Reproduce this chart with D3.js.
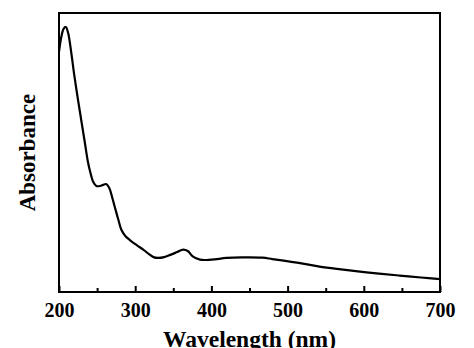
<!DOCTYPE html>
<html>
<head>
<meta charset="utf-8">
<script src="https://cdn.jsdelivr.net/npm/d3@7"></script>
<style>
  html, body { margin: 0; padding: 0; background: #fff; }
  svg { display: block; }
  text { font-family: "Liberation Serif", "Times New Roman", serif; font-weight: bold; fill: #000; }
</style>
</head>
<body>
<svg id="chart" width="474" height="348"></svg>
<script>
// UV-Vis absorption spectrum (arbitrary absorbance units)
const wavelength = [200, 203, 206, 209, 212, 216, 220, 225, 230, 234, 238, 241, 245, 249, 254, 258, 262, 266, 270, 274, 278, 282, 287, 293, 302, 311, 318, 324, 330, 338, 346, 355, 363, 369, 375, 385, 400, 420, 440, 467, 480, 503, 520, 542, 570, 595, 620, 647, 675, 700];
const absorbance = [0.860, 0.914, 0.943, 0.950, 0.928, 0.860, 0.778, 0.688, 0.602, 0.534, 0.466, 0.430, 0.394, 0.380, 0.380, 0.384, 0.387, 0.373, 0.337, 0.297, 0.258, 0.222, 0.201, 0.186, 0.168, 0.151, 0.136, 0.125, 0.122, 0.125, 0.133, 0.143, 0.152, 0.147, 0.129, 0.116, 0.116, 0.122, 0.124, 0.123, 0.118, 0.109, 0.102, 0.091, 0.081, 0.073, 0.066, 0.059, 0.052, 0.046];
const majorTicks = [200, 300, 400, 500, 600, 700];
const minorTicks = [250, 350, 450, 550, 650];
const xTitle = "Wavelength (nm)";
const yTitle = "Absorbance";

const margin = { left: 59, top: 13, right: 34, bottom: 56 };
const W = 474, H = 348;
const svg = d3.select("#chart");

const x = d3.scaleLinear().domain([200, 700]).range([margin.left, W - margin.right]);
const y = d3.scaleLinear().domain([0, 1]).range([H - margin.bottom, margin.top]);

const points = wavelength.map((w, i) => [w, absorbance[i]]);

// spectrum curve
const line = d3.line()
  .x(d => x(d[0]))
  .y(d => y(d[1]))
  .curve(d3.curveCatmullRom.alpha(0.5));

svg.append("path")
  .datum(points)
  .attr("d", line)
  .attr("fill", "none")
  .attr("stroke", "#000")
  .attr("stroke-width", 2.2)
  .attr("stroke-linejoin", "round");

// bottom axis with inward ticks
const xAxis = svg.append("g")
  .attr("transform", `translate(0,${y(0)})`)
  .call(d3.axisBottom(x).tickValues(majorTicks).tickSize(-6).tickPadding(11).tickFormat(d3.format("d")));
xAxis.select(".domain").remove();
xAxis.selectAll(".tick line").attr("stroke", "#000").attr("stroke-width", 2);
xAxis.selectAll(".tick text")
  .attr("font-size", 20)
  .attr("font-family", "'Liberation Serif', 'Times New Roman', serif")
  .attr("font-weight", "bold")
  .attr("fill", "#000");

const xMinor = svg.append("g")
  .attr("transform", `translate(0,${y(0)})`)
  .call(d3.axisBottom(x).tickValues(minorTicks).tickSize(-4).tickFormat(""));
xMinor.select(".domain").remove();
xMinor.selectAll(".tick line").attr("stroke", "#000").attr("stroke-width", 2);

// plot frame
svg.append("rect")
  .attr("x", x(200))
  .attr("y", y(1))
  .attr("width", x(700) - x(200))
  .attr("height", y(0) - y(1))
  .attr("fill", "none")
  .attr("stroke", "#000")
  .attr("stroke-width", 2);

// axis titles
svg.append("text")
  .attr("x", (x(200) + x(700)) / 2)
  .attr("y", 347)
  .attr("text-anchor", "middle")
  .attr("font-size", 23.5)
  .text(xTitle);

svg.append("text")
  .attr("transform", `translate(35,${(y(0) + y(1)) / 2}) rotate(-90)`)
  .attr("text-anchor", "middle")
  .attr("font-size", 23)
  .text(yTitle);
</script>
</body>
</html>
